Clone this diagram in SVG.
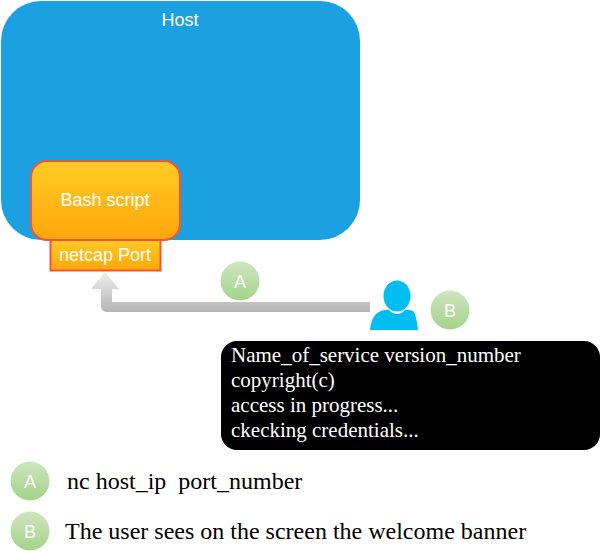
<svg xmlns="http://www.w3.org/2000/svg" width="601" height="551" viewBox="0 0 601 551">
<style>
.s{font-family:"Liberation Sans",Arial,sans-serif;fill:#fff;text-anchor:middle;font-size:18px}
.t{font-family:"Liberation Serif","Times New Roman",serif;fill:#000;font-size:24px}
.w{font-family:"Liberation Serif","Times New Roman",serif;fill:#fff;font-size:21px}
.b{fill:url(#g)}
.o{stroke:#f2553a;stroke-width:2}
</style>
<defs>
<linearGradient id="g" x1="0" y1="0" x2="0" y2="1"><stop offset="0" stop-color="#cfe5c0"/><stop offset="1" stop-color="#a3d38a"/></linearGradient>
<linearGradient id="o" x1="0" y1="0" x2="0" y2="1"><stop offset="0" stop-color="#ffcb26"/><stop offset="1" stop-color="#ffa60a"/></linearGradient>
<linearGradient id="a" x1="0" y1="0" x2="0" y2="1"><stop offset="0" stop-color="#efefef"/><stop offset="1" stop-color="#b4b4b4"/></linearGradient>
</defs>
<rect width="601" height="551" fill="#fff"/>
<g id="host"><rect x="1" y="1" width="359" height="239" rx="40" fill="#1ba1e2"/><text class="s" x="180" y="26">Host</text></g>
<g id="connectors"><path d="M370 302H112V289H119L105 272L91 289H101V306Q101 312 108 312H370Z" fill="url(#a)"/></g>
<g id="port"><rect x="50.500" y="240" width="110" height="30.500" fill="url(#o)" class="o"/><text class="s" x="105" y="261">netcap Port</text></g>
<g id="bash"><rect x="31" y="161" width="149" height="79" rx="16" fill="url(#o)" class="o"/><text class="s" x="105" y="206">Bash script</text></g>
<g id="user"><ellipse cx="397" cy="296" rx="13.500" ry="15.500" fill="#00bef2"/><path d="M370 330C371 319 375 313 381 311C386 310 388 309 390 311C394 315 400 315 404 311C406 309 409 310 413 311C415 313 417 319 418 330Z" fill="#00bef2"/></g>
<g id="badge-a"><circle cx="240" cy="281" r="19.500" class="b"/><text class="s" x="240" y="288">A</text></g>
<g id="badge-b"><circle cx="450" cy="310" r="19.500" class="b"/><text class="s" x="450" y="317">B</text></g>
<g id="banner"><rect x="221" y="341" width="379" height="109" rx="16" fill="#000"/>
<text class="w" x="231" y="362">Name_of_service version_number</text>
<text class="w" x="231" y="387">copyright(c)</text>
<text class="w" x="231" y="412">access in progress...</text>
<text class="w" x="231" y="437">ckecking credentials...</text></g>
<g id="legend-a"><circle cx="30" cy="481" r="19.500" class="b"/><text class="s" x="30" y="488">A</text><text class="t" x="67" y="489" xml:space="preserve">nc host_ip  port_number</text></g>
<g id="legend-b"><circle cx="30" cy="531" r="19.500" class="b"/><text class="s" x="30" y="538">B</text><text class="t" x="65" y="539">The user sees on the screen the welcome banner</text></g>
</svg>
